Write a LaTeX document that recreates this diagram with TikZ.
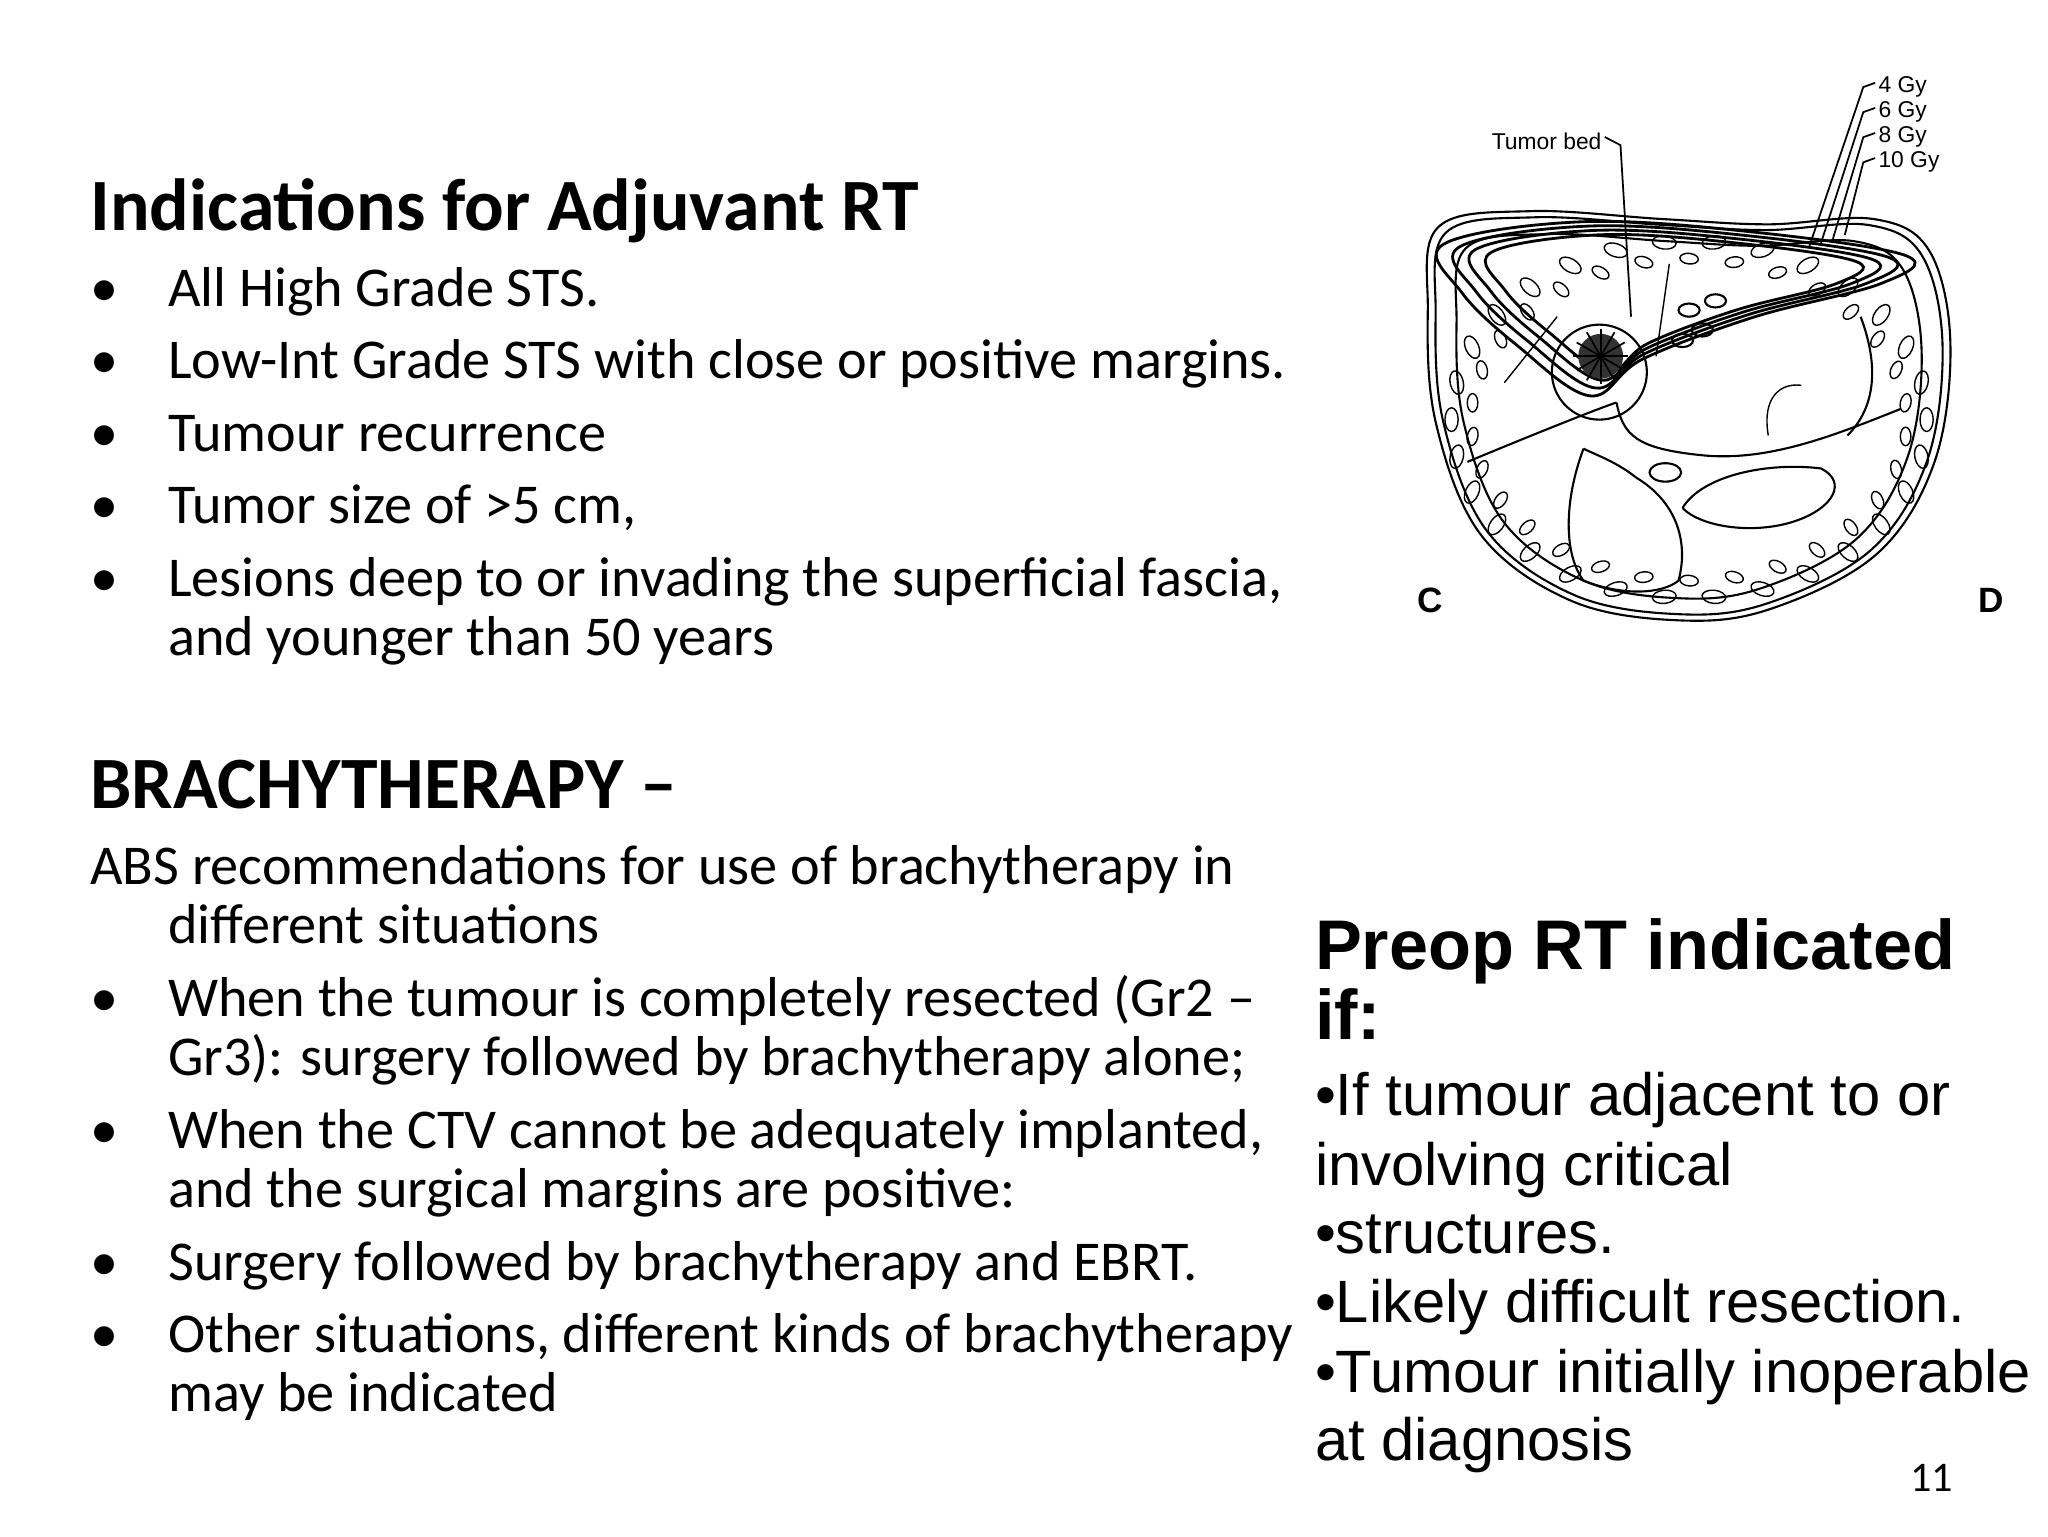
\documentclass[tikz,border=0pt]{standalone}
\usepackage{fontspec}
\setmainfont{Carlito}
\newfontfamily\arial{Liberation Sans}
\begin{document}
\begin{tikzpicture}[x=0.013196cm,y=-0.013196cm,
  txt/.style={anchor=base west,inner sep=0pt,font=\fontsize{16}{19}\selectfont},
  ttl/.style={anchor=base west,inner sep=0pt,font=\fontsize{21}{25}\selectfont\bfseries},
  rtxt/.style={anchor=base west,inner sep=0pt,font=\arial\fontsize{17}{20}\selectfont},
  rttl/.style={anchor=base west,inner sep=0pt,font=\arial\fontsize{20}{24}\selectfont\bfseries},
  lab/.style={anchor=base west,inner sep=0pt,font=\arial\fontsize{6.5}{8}\selectfont},
  bul/.style={anchor=base west,inner sep=0pt,font=\fontsize{16}{19}\selectfont},
  ln/.style={line width=0.6pt}]
\useasboundingbox (0,0) rectangle (1552,1164);
% left column
\node[ttl] (t1) at (68,175) {Indications for Adjuvant RT};
\foreach \y/\t [count=\i] in {232/All High Grade STS.,287/Low-Int Grade STS with close or positive margins.,342/Tumour recurrence,397/{Tumor size of >5 cm,},452/{Lesions deep to or invading the superficial fascia,}}{
  \node[bul] (b\i) at (68,\y) {•};
  \node[txt] (a\i) at (127,\y) {\t};
}
\node[txt] (a6) at (127,497) {and younger than 50 years};
\node[ttl] (t2) at (68,613) {BRACHYTHERAPY –};
\node[txt] (c0) at (68,670) {ABS recommendations for use of brachytherapy in};
\node[txt] (c0b) at (127,715) {different situations};
\foreach \y/\t [count=\i] in {770/When the tumour is completely resected (Gr2 –,870/{When the CTV cannot be adequately implanted,},970/Surgery followed by brachytherapy and EBRT.,1025/{Other situations, different kinds of brachytherapy}}{
  \node[bul] (d\i) at (68,\y) {•};
  \node[txt] (c\i) at (127,\y) {\t};
}
\node[txt] (e1) at (127,815) {Gr3): surgery followed by brachytherapy alone;};
\node[txt] (e2) at (127,915) {and the surgical margins are positive:};
\node[txt] (e4) at (127,1070) {may be indicated};
% right column
\node[rttl] (p1) at (996,735) {Preop RT indicated};
\node[rttl] (p2) at (996,788) {if:};
\node[rtxt] (q1) at (996,845) {•If tumour adjacent to or};
\node[rtxt] (q2) at (996,898) {involving critical};
\node[rtxt] (q3) at (996,950) {•structures.};
\node[rtxt] (q4) at (996,1002) {•Likely difficult resection.};
\node[rtxt] (q5) at (996,1055) {•Tumour initially inoperable};
\node[rtxt] (q6) at (996,1107) {at diagnosis};
\node[anchor=base west,inner sep=0pt,font=\fontsize{12}{14}\selectfont] (pg) at (1447,1130) {11};
% figure
\def\outer{plot[smooth cycle,tension=0.6] coordinates {(1090,172) (1160,160) (1260,166) (1340,170) (1420,166) (1462,190) (1478,260) (1466,350) (1422,420) (1340,462) (1270,470) (1190,455) (1122,405) (1088,320) (1082,235)}}
\draw[ln] \outer;
\draw[ln,scale around={0.97:(1280,315)}] \outer;
\draw[ln,scale around={0.89:(1280,318)}] \outer;
\foreach \a in {0,12,...,348}{
  \pgfmathsetmacro\cxa{1280+180*cos(\a)}
  \pgfmathsetmacro\cya{318+135*sin(\a)}
  \pgfmathsetmacro\cxb{1280+165*cos(\a+6)}
  \pgfmathsetmacro\cyb{318+122*sin(\a+6)}
  \draw[line width=0.4pt,rotate around={\a+90:(\cxa,\cya)}] (\cxa,\cya) ellipse (9 and 5);
  \draw[line width=0.4pt,rotate around={\a+90:(\cxb,\cyb)}] (\cxb,\cyb) ellipse (7 and 4);
}
% dose crescents
\def\cres{plot[smooth cycle,tension=0.6] coordinates {(1094,185) (1200,168) (1330,176) (1445,194) (1425,215) (1330,240) (1245,272) (1205,300) (1150,262) (1108,222)}}
\foreach \s in {1,0.93,0.86,0.79}{\draw[line width=0.8pt,scale around={\s:(1265,215)}] \cres;}
% tumor
\fill[black!80] (1213,270) circle (17);
\foreach \a in {0,30,...,330}{\draw[line width=0.5pt] (1213,270) -- ++(\a:21);}
\draw[ln] (1212,282) circle (36);
% compartments
\draw[ln] (1112,350) .. controls (1160,330) and (1210,310) .. (1225,305);
\draw[ln] (1225,305) .. controls (1230,330) and (1240,340) .. (1290,345) .. controls (1340,350) and (1390,330) .. (1440,310);
\draw[ln] (1200,340) .. controls (1185,380) and (1185,420) .. (1200,440) .. controls (1230,452) and (1260,450) .. (1272,440) .. controls (1280,410) and (1270,380) .. (1240,362) .. controls (1225,350) and (1210,345) .. (1200,340);
\draw[ln] (1275,385) .. controls (1290,400) and (1330,405) .. (1360,395) .. controls (1390,385) and (1400,365) .. (1380,355) .. controls (1340,350) and (1290,360) .. (1275,385);
\draw[ln] (1262,358) ellipse (12 and 7);
\draw[ln] (1410,240) .. controls (1425,280) and (1420,310) .. (1400,330);
\draw[line width=0.4pt] (1340,330) .. controls (1335,300) and (1350,290) .. (1365,292);
\draw[line width=0.4pt] (1140,290) -- (1180,240);
\draw[line width=0.4pt] (1255,270) -- (1265,200);
% small vessels
\foreach \p in {(1280,235),(1300,228),(1290,250),(1275,258)}{\draw[ln] \p ellipse (8 and 5);}
% labels
\node[lab] (tb) at (1130,113) {Tumor bed};
\coordinate (tb1) at (1228,110);
\coordinate (tb2) at (1236,240);
\draw[line width=0.5pt] (tb.east) ++(2,-3) -- (tb1) -- (tb2);
\foreach \y/\t [count=\i] in {70/4 Gy/day,89/6 Gy/day,108/8 Gy/day,127/10 Gy/day}{
  \node[lab] (g\i) at (1423,\y) {\t};
  \coordinate (gs\i) at (1412,\y-4);
  \coordinate (ge\i) at (1362+9*\i,190-3*\i);
  \draw[line width=0.5pt] (g\i.west) ++(-2,-3) -- (gs\i) -- (ge\i);
}
\node[anchor=base west,inner sep=0pt,font=\arial\fontsize{10}{12}\selectfont\bfseries] (lc) at (1074,464) {C};
\node[anchor=base west,inner sep=0pt,font=\arial\fontsize{10}{12}\selectfont\bfseries] (ld) at (1499,464) {D};
\end{tikzpicture}
\end{document}
